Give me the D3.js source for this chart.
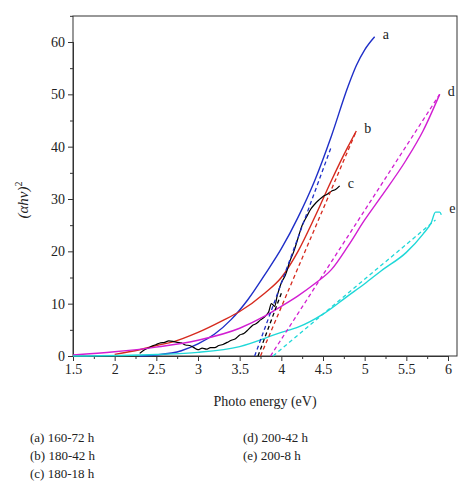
<!DOCTYPE html>
<html><head><meta charset="utf-8">
<script src="https://cdn.jsdelivr.net/npm/d3@7"></script>
<style>body{margin:0;background:#fff;font-family:"Liberation Serif",serif}</style>
</head><body>
<svg id="c" width="474" height="504"></svg>
<script>
var curveA = [[2.3,0],[2.5,0.2],[2.8,1],[3.0,2.3],[3.2,4.2],[3.4,7],[3.6,10.8],[3.8,15.5],[4.0,20.5],[4.2,26.5],[4.4,33.5],[4.6,42],[4.8,51.5],[4.9,55.5],[5.0,58.5],[5.12,61]];
var curveB = [[2.0,0.3],[2.3,1.2],[2.5,2],[2.7,2.7],[3.0,4.5],[3.3,6.8],[3.5,8.5],[3.8,12],[4.0,15],[4.2,20],[4.4,26.5],[4.6,33.5],[4.8,40],[4.9,43]];
var curveC = [[2.3,0.5],[2.35,1.1],[2.4,1.5],[2.45,1.9],[2.5,2.2],[2.55,2.5],[2.6,2.6],[2.65,2.9],[2.7,2.8],[2.75,2.6],[2.8,2.5],[2.85,2.1],[2.9,2.0],[2.95,1.6],[3.0,1.2],[3.05,1.5],[3.1,1.3],[3.15,1.6],[3.2,1.6],[3.25,2.0],[3.3,2.2],[3.35,2.6],[3.4,3.0],[3.45,3.3],[3.5,4.0],[3.55,4.3],[3.6,5.0],[3.65,5.8],[3.7,6.2],[3.75,6.9],[3.8,7.5],[3.85,8.5],[3.88,10],[3.92,9.5],[3.95,11.5],[4.0,14],[4.05,15.5],[4.1,18],[4.15,20],[4.2,22.5],[4.25,25],[4.3,26.5],[4.35,28],[4.4,29],[4.45,29.8],[4.5,30.5],[4.55,30.9],[4.6,31.5],[4.65,31.8],[4.7,32.5]];
var curveD = [[1.5,0.2],[2.0,0.8],[2.5,1.7],[3.0,3],[3.5,5.3],[3.8,7.6],[4.0,9.5],[4.2,11.5],[4.4,13.8],[4.6,16.5],[4.8,21],[5.0,26],[5.2,30.5],[5.5,37.5],[5.7,43],[5.9,50]];
var curveE = [[1.5,0],[2.5,0.3],[3.0,0.7],[3.5,1.8],[4.0,4.5],[4.2,5.5],[4.5,8],[4.8,11.5],[5.0,13.8],[5.2,16.3],[5.5,19.8],[5.7,23.3],[5.8,25.5],[5.85,27.5],[5.9,27.5],[5.92,27]];
var tangents = [[[3.68,0],[4.6,40]],[[3.75,0],[4.9,43]],[[3.72,0],[4.0,12]],[[3.87,0],[5.9,50]],[[3.9,0],[5.85,26]]];
var colors = ["#1f2fc8","#d62a1e","#000000","#d21ed2","#1fd8d8"];
var labels = ["a","b","c","d","e"];
var legend = ["(a) 160-72 h","(b) 180-42 h","(c) 180-18 h","(d) 200-42 h","(e) 200-8 h"];
var xTicks = [1.5,2,2.5,3,3.5,4,4.5,5,5.5,6];
var yTicks = [0,10,20,30,40,50,60];

var svg = d3.select("#c");
var x = d3.scaleLinear().domain([1.5,6]).range([73,448]);
var y = d3.scaleLinear().domain([0,60]).range([356,42]);
var curves = [curveA,curveB,curveC,curveD,curveE];

svg.append("rect").attr("x",73).attr("y",16).attr("width",384).attr("height",340)
  .attr("fill","none").attr("stroke","#333").attr("stroke-width",1);

svg.append("g").attr("transform","translate(0,356)")
  .call(d3.axisBottom(x).tickValues(xTicks).tickSize(5).tickFormat(d3.format("")));
svg.append("g").attr("transform","translate(0,356)")
  .call(d3.axisBottom(x).tickValues(d3.range(1.75,6,0.5)).tickSize(3).tickFormat(""));
svg.append("g").attr("transform","translate(73,0)")
  .call(d3.axisLeft(y).tickValues(yTicks).tickSize(5));
svg.append("g").attr("transform","translate(73,0)")
  .call(d3.axisLeft(y).tickValues(d3.range(5,66,10)).tickSize(3).tickFormat(""));
svg.selectAll(".domain").attr("stroke","#333");
svg.selectAll(".tick line").attr("stroke","#333");
svg.selectAll(".tick text").attr("font-family","Liberation Serif").attr("font-size",14).attr("fill","#222");

var line = d3.line().x(function(d){return x(d[0]);}).y(function(d){return y(d[1]);}).curve(d3.curveMonotoneX);
curves.forEach(function(c,i){
  svg.append("path").attr("d",line(c)).attr("fill","none").attr("stroke",colors[i]).attr("stroke-width",i==2?1.2:1.4);
});
tangents.forEach(function(t,i){
  svg.append("path").attr("d",d3.line().x(function(d){return x(d[0]);}).y(function(d){return y(d[1]);})(t))
    .attr("fill","none").attr("stroke",colors[i]).attr("stroke-width",1.3).attr("stroke-dasharray","4,3");
});
curves.forEach(function(c,i){
  var p = c[c.length-1];
  svg.append("text").attr("x",x(p[0])+8).attr("y",y(p[1])+(i==4?-2:2)).text(labels[i])
    .attr("font-size",14).attr("fill","#222");
});

svg.append("text").attr("x",265).attr("y",406).attr("text-anchor","middle").attr("font-size",14).attr("fill","#222").text("Photo energy (eV)");
svg.append("text").attr("transform","translate(28,200) rotate(-90)").attr("text-anchor","middle")
  .attr("font-size",15).attr("fill","#222").attr("font-style","italic")
  .html('(<tspan>αhν</tspan>)<tspan dy="-6" font-size="10" font-style="normal">2</tspan>');

legend.forEach(function(t,i){
  svg.append("text").attr("x",i<3?30:243).attr("y",442+(i%3)*18).attr("font-size",13).attr("fill","#222").text(t);
});
</script>
</body></html>
